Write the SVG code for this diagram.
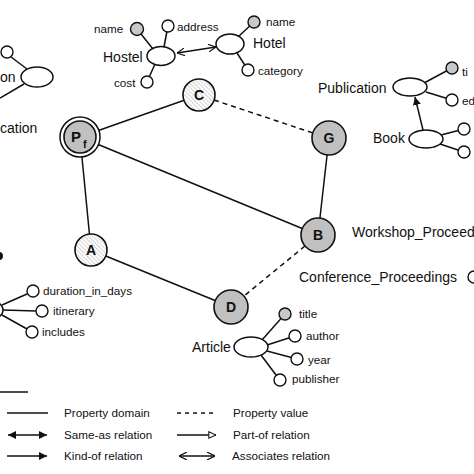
<svg xmlns="http://www.w3.org/2000/svg" width="474" height="474" viewBox="0 0 474 474">
<style>
text{font-family:"Liberation Sans",Arial,sans-serif;fill:#111}
.lbl{font-size:14px}
.sm{font-size:11.7px}
.nl{font-size:14px;font-weight:bold;text-anchor:middle}
.ln{stroke:#111;stroke-width:1.5;fill:none}
.dash{stroke:#111;stroke-width:1.5;fill:none;stroke-dasharray:5,4}
.el{fill:#fff;stroke:#111;stroke-width:1.5}
.pc{fill:#fff;stroke:#111;stroke-width:1.4}
.pg{fill:#c8c8c8;stroke:#111;stroke-width:1.4}
.big{fill:#c0c0c0;stroke:#111;stroke-width:1.6}
.hat{fill:url(#hatch);stroke:#111;stroke-width:1.6}
</style>
<defs>
<pattern id="hatch" patternUnits="userSpaceOnUse" width="3" height="3" patternTransform="rotate(-45)">
<rect width="3" height="3" fill="#fff"/>
<line x1="0" y1="0" x2="0" y2="3" stroke="#aaa" stroke-width="1"/>
</pattern>
<marker id="fill" viewBox="0 0 10 10" refX="10" refY="5" markerWidth="8" markerHeight="8" markerUnits="userSpaceOnUse" orient="auto-start-reverse">
<path d="M0,0 L10,5 L0,10 Z" fill="#111"/>
</marker>
<marker id="vee" viewBox="0 0 10 10" refX="10" refY="5" markerWidth="8" markerHeight="8" markerUnits="userSpaceOnUse" orient="auto-start-reverse">
<path d="M0,0 L10,5 L0,10" fill="none" stroke="#111" stroke-width="1.4"/>
</marker>
<marker id="tri" viewBox="0 0 10 10" refX="10" refY="5" markerWidth="8" markerHeight="8" markerUnits="userSpaceOnUse" orient="auto">
<path d="M1,1 L10,5 L1,9 Z" fill="#fff" stroke="#111" stroke-width="1.3"/>
</marker>
</defs>

<g id="connectors">
<line class="ln" x1="80" y1="137" x2="199" y2="95"/>
<line class="ln" x1="80" y1="137" x2="318" y2="235"/>
<line class="ln" x1="80" y1="137" x2="91" y2="250"/>
<line class="ln" x1="91" y1="250" x2="231" y2="307"/>
<line class="dash" x1="214" y1="100" x2="313" y2="133"/>
<line class="ln" x1="329" y1="138" x2="318" y2="235"/>
<line class="dash" x1="305" y1="246" x2="244" y2="296"/>
<line class="ln" x1="177" y1="53" x2="216" y2="47" marker-start="url(#vee)" marker-end="url(#vee)"/>
<line class="ln" x1="423" y1="130" x2="415" y2="97" marker-end="url(#fill)"/>
</g>

<g id="pf">
<circle cx="80" cy="137" r="20" fill="#fff" stroke="#111" stroke-width="1.5"/>
<circle cx="80" cy="137" r="16" class="big"/>
<text x="76" y="142" style="font-size:15px;font-weight:bold" text-anchor="middle">P</text>
<text x="83" y="148" style="font-size:11px;font-weight:bold">f</text>
</g>
<g id="node-c"><circle cx="199" cy="95" r="16" class="hat"/><text class="nl" x="199" y="100">C</text></g>
<g id="node-g"><circle cx="329" cy="138" r="17" class="big"/><text class="nl" x="329" y="143">G</text></g>
<g id="node-b"><circle cx="318" cy="235" r="17" class="big"/><text class="nl" x="318" y="240">B</text></g>
<g id="node-d"><circle cx="231" cy="307" r="17" class="big"/><text class="nl" x="231" y="312">D</text></g>
<g id="node-a"><circle cx="91" cy="250" r="16" class="hat"/><text class="nl" x="91" y="255">A</text></g>

<g id="hostel">
<line class="ln" x1="137" y1="29" x2="153" y2="49"/>
<line class="ln" x1="167" y1="31" x2="164" y2="47"/>
<line class="ln" x1="147" y1="82" x2="155" y2="64"/>
<ellipse class="el" cx="161" cy="56" rx="14" ry="9.5"/>
<circle class="pg" cx="137" cy="29" r="6.5"/>
<circle class="pc" cx="168" cy="26" r="6"/>
<circle class="pc" cx="147" cy="82" r="6"/>
<text class="sm" x="94" y="33">name</text>
<text class="sm" x="177" y="31">address</text>
<text class="sm" x="114" y="87">cost</text>
<text class="lbl" x="103" y="62">Hostel</text>
</g>

<g id="hotel">
<line class="ln" x1="254" y1="22" x2="238" y2="37"/>
<line class="ln" x1="248" y1="70" x2="237" y2="53"/>
<ellipse class="el" cx="230" cy="44" rx="14" ry="10"/>
<circle class="pg" cx="254" cy="22" r="6"/>
<circle class="pc" cx="248" cy="70" r="6"/>
<text class="sm" x="266" y="26">name</text>
<text class="sm" x="258" y="75">category</text>
<text class="lbl" x="253" y="48">Hotel</text>
</g>

<g id="publication">
<line class="ln" x1="424" y1="83" x2="452" y2="68"/>
<line class="ln" x1="426" y1="92" x2="452" y2="100"/>
<ellipse class="el" cx="410" cy="87" rx="17" ry="9"/>
<circle class="pg" cx="452" cy="68" r="6"/>
<circle class="pc" cx="452" cy="100" r="6"/>
<text class="sm" x="462" y="76">ti</text>
<text class="sm" x="462" y="105">ed</text>
<text class="lbl" x="318" y="93">Publication</text>
</g>

<g id="book">
<line class="ln" x1="441" y1="135" x2="464" y2="129"/>
<line class="ln" x1="440" y1="144" x2="464" y2="152"/>
<ellipse class="el" cx="426" cy="139" rx="17" ry="9"/>
<circle class="pc" cx="464" cy="129" r="6"/>
<circle class="pc" cx="464" cy="152" r="6"/>
<text class="lbl" x="373" y="143">Book</text>
</g>

<g id="workshop"><text class="lbl" x="352" y="237">Workshop_Proceed</text></g>
<g id="conference">
<text class="lbl" x="299" y="282">Conference_Proceedings</text>
<circle class="pc" cx="474" cy="277" r="6"/>
</g>

<g id="article">
<line class="ln" x1="262" y1="340" x2="285" y2="314"/>
<line class="ln" x1="267" y1="345" x2="295" y2="336"/>
<line class="ln" x1="267" y1="351" x2="297" y2="359"/>
<line class="ln" x1="261" y1="355" x2="279" y2="379"/>
<ellipse class="el" cx="251" cy="347" rx="17" ry="10"/>
<circle class="pg" cx="285" cy="314" r="6"/>
<circle class="pc" cx="295" cy="336" r="6"/>
<circle class="pc" cx="297" cy="359" r="6"/>
<circle class="pc" cx="280" cy="380" r="6"/>
<text class="sm" x="299" y="318">title</text>
<text class="sm" x="306" y="340">author</text>
<text class="sm" x="308" y="364">year</text>
<text class="sm" x="292" y="383">publisher</text>
<text class="lbl" x="192" y="352">Article</text>
</g>

<g id="left-top">
<line class="ln" x1="11" y1="57" x2="27" y2="69"/>
<line class="ln" x1="24" y1="84" x2="0" y2="98"/>
<circle class="pc" cx="7" cy="52" r="6"/>
<ellipse class="el" cx="37" cy="77" rx="16" ry="10"/>
<text class="lbl" x="0" y="82">on</text>
<text class="lbl" x="0" y="133">cation</text>
</g>

<g id="left-mid">
<circle cx="-1" cy="256" r="4" fill="#111"/>
<line class="ln" x1="2" y1="305" x2="27" y2="294"/>
<line class="ln" x1="3" y1="310" x2="36" y2="311"/>
<line class="ln" x1="2" y1="315" x2="27" y2="329"/>
<ellipse class="el" cx="-9" cy="310" rx="12" ry="9"/>
<circle class="pc" cx="33" cy="291" r="6"/>
<circle class="pc" cx="42" cy="311" r="6"/>
<circle class="pc" cx="32" cy="332" r="6"/>
<text class="sm" x="43" y="295">duration_in_days</text>
<text class="sm" x="53" y="315">itinerary</text>
<text class="sm" x="42" y="336">includes</text>
<line class="ln" x1="0" y1="392" x2="28" y2="392"/>
</g>

<g id="legend">
<line class="ln" x1="7" y1="413" x2="48" y2="413"/>
<text class="sm" x="64" y="417">Property domain</text>
<line class="dash" x1="177" y1="413" x2="217" y2="413" style="stroke-dasharray:4,4"/>
<text class="sm" x="233" y="417">Property value</text>
<line class="ln" x1="8" y1="435" x2="47" y2="435" marker-start="url(#fill)" marker-end="url(#fill)"/>
<text class="sm" x="64" y="439">Same-as relation</text>
<line class="ln" x1="177" y1="435" x2="216" y2="435" marker-end="url(#tri)"/>
<text class="sm" x="233" y="439">Part-of relation</text>
<line class="ln" x1="7" y1="456" x2="47" y2="456" marker-end="url(#fill)"/>
<text class="sm" x="64" y="460">Kind-of relation</text>
<line class="ln" x1="179" y1="456" x2="215" y2="456" marker-start="url(#vee)" marker-end="url(#vee)"/>
<text class="sm" x="232" y="460">Associates relation</text>
</g>
</svg>
